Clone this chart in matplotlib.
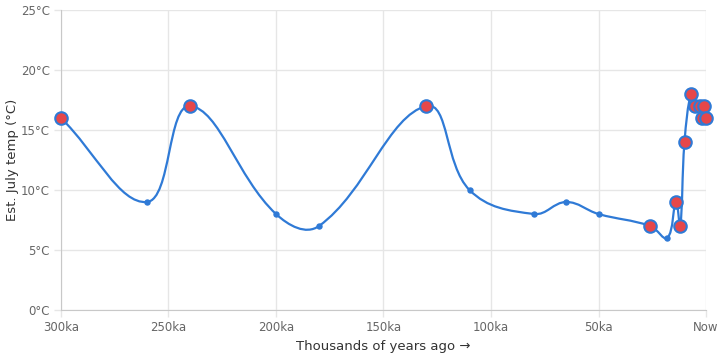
import numpy as np
import matplotlib
matplotlib.use('Agg')
import matplotlib.pyplot as plt
from matplotlib.path import Path
from matplotlib.patches import PathPatch

# thousands of years ago (negative = past) and estimated July temperature
years = [-300, -260, -240, -200, -180, -130, -110, -80, -65, -50,
         -26, -18, -14, -12, -10, -7, -5, -3, -2, -1, 0]
temps = [16, 9, 17, 8, 7, 17, 10, 8, 9, 8,
         7, 6, 9, 7, 14, 18, 17, 17, 16, 17, 16]
highlight = [True, False, True, False, False, True, False, False, False, False,
             True, False, True, True, True, True, True, True, True, True, True]

xticks = [-300, -250, -200, -150, -100, -50, 0]
xtick_labels = ['300ka', '250ka', '200ka', '150ka', '100ka', '50ka', 'Now']
yticks = [0, 5, 10, 15, 20, 25]

blue = '#2f7ad6'
red = '#e6474a'

fig = plt.figure(figsize=(7.2, 3.6), dpi=100)
ax = fig.add_axes([61 / 720, 1 - 310 / 360, 645 / 720, 300 / 360])
ax.set_xlim(-300, 0)
ax.set_ylim(0, 25)

# chart.js style spline (tension 0.4), control points computed in pixel space
sx, sy = 645 / 300, 300 / 25
px = np.array(years, float) * sx
py = np.array(temps, float) * sy
n = len(px)
tension = 0.4
cp_prev = np.zeros((n, 2))
cp_next = np.zeros((n, 2))
for i in range(n):
    p = np.array([px[max(i - 1, 0)], py[max(i - 1, 0)]])
    c = np.array([px[i], py[i]])
    nx = np.array([px[min(i + 1, n - 1)], py[min(i + 1, n - 1)]])
    d01 = np.hypot(*(c - p))
    d12 = np.hypot(*(nx - c))
    tot = d01 + d12
    s01 = d01 / tot if tot else 0
    s12 = d12 / tot if tot else 0
    cp_prev[i] = c - tension * s01 * (nx - p)
    cp_next[i] = c + tension * s12 * (nx - p)

verts = [(years[0], temps[0])]
codes = [Path.MOVETO]
for i in range(n - 1):
    verts += [(cp_next[i][0] / sx, cp_next[i][1] / sy),
              (cp_prev[i + 1][0] / sx, cp_prev[i + 1][1] / sy),
              (years[i + 1], temps[i + 1])]
    codes += [Path.CURVE4] * 3
ax.add_patch(PathPatch(Path(verts, codes), fill=False, edgecolor=blue,
                       linewidth=1.6, zorder=3, clip_on=False))

# points
for x, y, h in zip(years, temps, highlight):
    if h:
        ax.plot(x, y, 'o', markersize=9, markerfacecolor=red,
                markeredgecolor=blue, markeredgewidth=1.5, zorder=4, clip_on=False)
    else:
        ax.plot(x, y, 'o', markersize=3.6, color=blue, zorder=4, clip_on=False)

ax.set_xticks(xticks)
ax.set_xticklabels(xtick_labels)
ax.set_yticks(yticks)
ax.set_yticklabels([f'{t}°C' for t in yticks])
ax.grid(True, color='#e6e6e6', linewidth=1)
ax.set_axisbelow(True)
ax.tick_params(axis='both', colors='#e6e6e6', labelcolor='#666666',
               labelsize=8.5, length=5, width=1, pad=3)
for s in ['top', 'right']:
    ax.spines[s].set_visible(False)
for s in ['left', 'bottom']:
    ax.spines[s].set_color('#c8c8c8')

ax.set_xlabel('Thousands of years ago →', fontsize=9.5, color='#333333')
ax.set_ylabel('Est. July temp (°C)', fontsize=9.5, color='#333333')
ax.xaxis.set_label_coords(0.5, -0.10)
ax.yaxis.set_label_coords(-0.065, 0.5)

fig.savefig('out.png', dpi=100)
